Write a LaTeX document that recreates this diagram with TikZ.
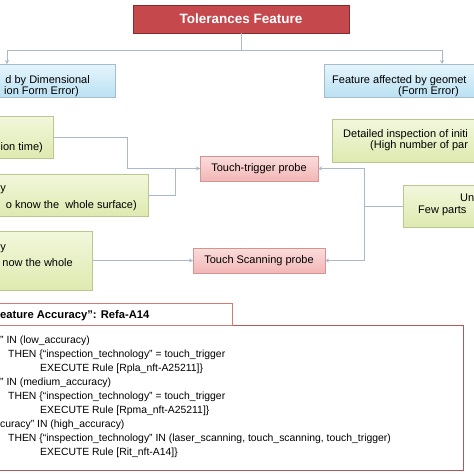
\documentclass[tikz,border=0pt]{standalone}
\usepackage{fontspec}
\setmainfont{Liberation Sans}
\usetikzlibrary{arrows.meta}
\usetikzlibrary{shadows}

\definecolor{titlefill}{HTML}{C5484C}
\definecolor{titledraw}{HTML}{8B2A2D}
\definecolor{bluetop}{HTML}{E6F5FC}
\definecolor{bluebot}{HTML}{BBE1F3}
\definecolor{bluedraw}{HTML}{A3BDCC}
\definecolor{greentop}{HTML}{F2F7DC}
\definecolor{greenbot}{HTML}{DEEAB0}
\definecolor{greendraw}{HTML}{B9C88F}
\definecolor{pinktop}{HTML}{FBDCDC}
\definecolor{pinkbot}{HTML}{F2B6B6}
\definecolor{pinkdraw}{HTML}{D49494}
\definecolor{linkcol}{HTML}{A9B9C9}
\definecolor{rulesdraw}{HTML}{B4585A}
\definecolor{headdraw}{HTML}{D47878}

\tikzset{
   box/.style={draw, inner sep=0pt, outer sep=0pt, line width=0.6pt,
      drop shadow={opacity=0.18, shadow xshift=1.2pt, shadow yshift=-1.2pt}},
   bluebox/.style={box, draw=bluedraw, top color=bluetop, bottom color=bluebot},
   greenbox/.style={box, draw=greendraw, top color=greentop, bottom color=greenbot},
   probebox/.style={box, draw=pinkdraw, top color=pinktop, bottom color=pinkbot,
      font=\fontsize{11}{13}\selectfont},
   txt/.style={inner sep=0pt, font=\fontsize{11}{13}\selectfont},
   code/.style={inner sep=0pt, anchor=base west, font=\fontsize{10.4}{14}\selectfont},
   link/.style={draw=linkcol, line width=0.8pt},
   arr/.style={-{Stealth[length=4pt, width=4pt]}}
}

\begin{document}
\begin{tikzpicture}[x=1pt, y=-1pt]
   \useasboundingbox (0,0) rectangle (474,474);
   \clip (0,0) rectangle (474,474);

   % top of the tree
   \node[box, draw=titledraw, fill=titlefill, minimum width=216pt, minimum height=28pt,
      text=white, font=\fontsize{13.5}{15}\selectfont\bfseries] (title) at (241,19) {Tolerances Feature};
   \coordinate (split) at (241,50);

   \node[bluebox, minimum width=175pt, minimum height=33pt] (dimbox) at (27.5,80.5) {};
   \node[bluebox, minimum width=216pt, minimum height=33pt] (geobox) at (432,80.5) {};

   \draw[link] (title.south) -- (split);
   \draw[link, arr] (split) -| ([xshift=-20.5pt]dimbox.north);
   \draw[link, arr] (split) -| ([xshift=10pt]geobox.north);

   \node[txt, anchor=base east] (dimA) at (90,83) {d by Dimensional};
   \node[txt, anchor=base east] (dimB) at (79,94.5) {ion Form Error)};
   \node[txt, anchor=base west] (geoA) at (332,83) {Feature affected by geomet};
   \node[txt, anchor=base west] (geoB) at (398,94.5) {(Form Error)};

   % left cases
   \node[greenbox, minimum width=113pt, minimum height=42pt] (lowbox) at (-3.5,137) {};
   \node[greenbox, minimum width=208pt, minimum height=42pt] (medbox) at (44,195) {};
   \node[greenbox, minimum width=152pt, minimum height=59pt] (highbox) at (16,260.5) {};

   \node[txt, anchor=base east] (lowB) at (43,150) {ion time)};
   \node[txt, anchor=base east] (medA) at (6,191) {y};
   \node[txt, anchor=base east] (medB) at (137,208) {o know the\ \ whole surface)};
   \node[txt, anchor=base east] (highA) at (6,250) {y};
   \node[txt, anchor=base east] (highB) at (73,266) {now the whole};

   % probes
   \node[probebox, minimum width=118pt, minimum height=25pt] (trigger) at (259,168.5) {Touch-trigger probe};
   \node[probebox, minimum width=132pt, minimum height=25pt] (scanning) at (259,260.5) {Touch Scanning probe};

   % right cases
   \node[greenbox, minimum width=208pt, minimum height=43pt] (initbox) at (436,140.5) {};
   \node[greenbox, minimum width=137pt, minimum height=42pt] (fewbox) at (471.5,206) {};

   \node[txt, anchor=base west] (initA) at (343,137) {Detailed inspection of initi};
   \node[txt, anchor=base west] (initB) at (370,148) {(High number of par};
   \node[txt, anchor=base west] (fewA) at (460,201) {Un};
   \node[txt, anchor=base west] (fewB) at (418,213.5) {Few parts};

   \draw[link, arr] (lowbox.east) -- ++(74,0) |- (trigger.west);
   \draw[link] (medbox.east) -- ++(27,0) |- (trigger.west);
   \draw[link, arr] (highbox.east) -- (scanning.west);
   \draw[link] (fewbox.west) -- ++(-39,0) coordinate (fork);
   \draw[link, arr] (fork) |- (trigger.east);
   \draw[link, arr] (fork) |- (scanning.east);

   % rule block
   \node[draw=rulesdraw, fill=white, line width=0.8pt, minimum width=523pt, minimum height=145pt] (rules) at (201.5,397.5) {};
   \node[draw=headdraw, fill=white, line width=0.8pt, minimum width=292pt, minimum height=22pt] (rulehead) at (86,314) {};
   \node[inner sep=0pt, anchor=base west, font=\fontsize{11.2}{13}\selectfont\bfseries] (headtxt) at (0,318.5) {eature Accuracy”: Refa-A14};

   \node[code] (c1) at (0,343.5) {” IN (low\_accuracy)};
   \node[code] (c2) at (8,357.5) {THEN \{“inspection\_technology” = touch\_trigger};
   \node[code] (c3) at (40,371.5) {EXECUTE Rule [Rpla\_nft-A25211]\}};
   \node[code] (c4) at (0,385.5) {” IN (medium\_accuracy)};
   \node[code] (c5) at (8,399.5) {THEN \{“inspection\_technology” = touch\_trigger};
   \node[code] (c6) at (40,413.5) {EXECUTE Rule [Rpma\_nft-A25211]\}};
   \node[code] (c7) at (0,427.5) {curacy” IN (high\_accuracy)};
   \node[code] (c8) at (8,441.5) {THEN \{“inspection\_technology” IN (laser\_scanning, touch\_scanning, touch\_trigger)};
   \node[code] (c9) at (40,455.5) {EXECUTE Rule [Rit\_nft-A14]\}};
\end{tikzpicture}
\end{document}
